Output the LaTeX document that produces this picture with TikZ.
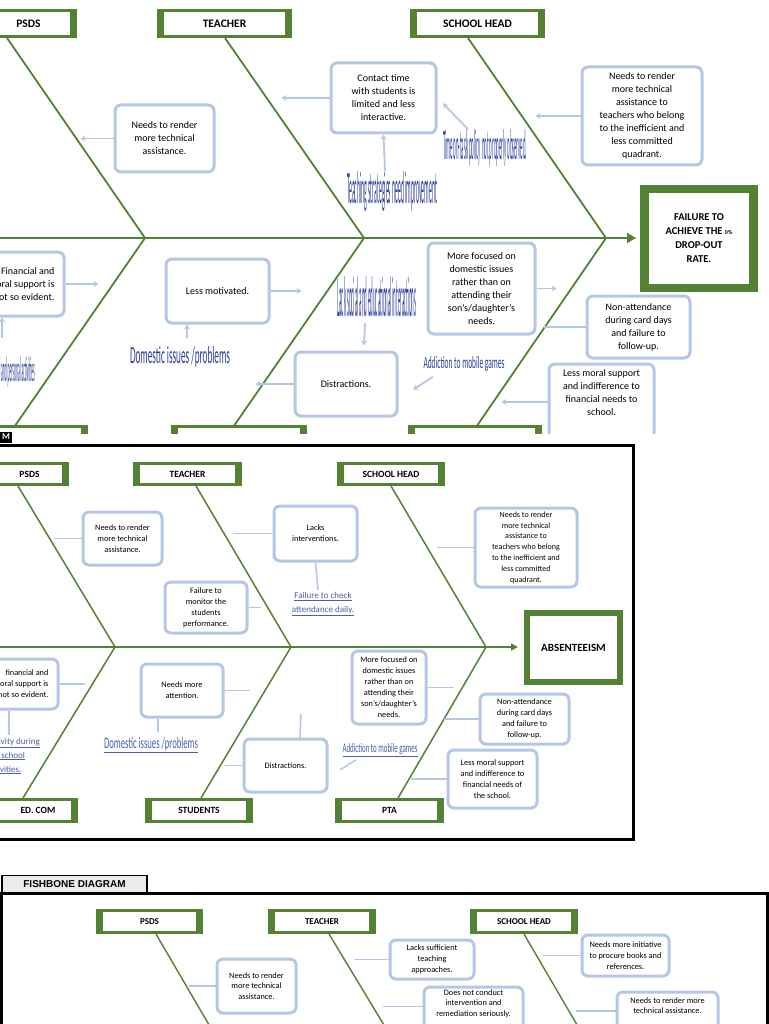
\documentclass[tikz,border=0pt]{standalone}
\usepackage{fontspec}
\usepackage{graphicx}
\setmainfont{Carlito}
\newfontfamily\tabfont{Liberation Sans}
\usetikzlibrary{arrows.meta}
\definecolor{fg}{HTML}{548235}
\definecolor{bb}{HTML}{B4C7E7}
\definecolor{tb}{HTML}{2E3F9E}
\definecolor{lk}{HTML}{4A5FA8}
\tikzset{
 cbox/.style={draw=bb,line width=3pt,rounded corners=6pt,fill=white,align=center,inner sep=2pt},
 gout/.style={fill=fg,inner sep=0pt},
 gin/.style={fill=white,inner sep=0pt},
 bone/.style={draw=fg,line width=1.8pt},
 la/.style={draw=bb,line width=1.8pt,-{Stealth[length=5pt,width=6pt]}},
 ll/.style={draw=bb,line width=1.5pt},
 sq/.style={text=tb,inner sep=0pt},
 lkt/.style={text=lk,inner sep=0pt,align=center},
}
\newcommand\cb[7]{\node[cbox,font=#7,minimum width={(#4-#2)*1pt},minimum height={(#5-#3)*1pt}] (#1) at ({(#2+#4)/2},{(#3+#5)/2}) {#6};}
\newcommand\gb[7]{\node[gout,minimum width={(#4-#2)*1pt},minimum height={(#5-#3)*1pt}] (#1) at ({(#2+#4)/2},{(#3+#5)/2}) {};
\node[gin,font={\bfseries#7},minimum width={(#4-#2-14)*1pt},minimum height={(#5-#3-6)*1pt}] (#1t) at (#1) {#6};}
\begin{document}
\begin{tikzpicture}[x=1pt,y=-1pt]
\useasboundingbox (0,0) rectangle (768,1024);
\fill[white] (0,0) rectangle (768,1024);
% ===== PANEL 1 =====
\begin{scope}
\clip (0,0) rectangle (768,433);
\coordinate (p1s) at (0,238); \coordinate (p1e) at (636,238);
\draw[bone,-{Triangle[length=9pt,width=10pt]}] (p1s) -- (p1e);
\coordinate (a1) at (7,38); \coordinate (a2) at (145,238);
\coordinate (b1) at (225,38); \coordinate (b2) at (364,238);
\coordinate (c1) at (468,38); \coordinate (c2) at (606,238);
\coordinate (d1) at (10,433); \coordinate (e1) at (229,433); \coordinate (f1) at (472,433);
\draw[bone] (a1)--(a2)--(d1); \draw[bone] (b1)--(b2)--(e1); \draw[bone] (c1)--(c2)--(f1);
\gb{g1}{-60}{9}{77}{38}{\hspace*{40pt}PSDS}{\fontsize{11.5}{12}\selectfont}
\gb{g2}{157}{9}{292}{38}{TEACHER}{\fontsize{11.5}{12}\selectfont}
\gb{g3}{410}{9}{545}{38}{SCHOOL HEAD}{\fontsize{11.5}{12}\selectfont}
\gb{g4}{-50}{425}{88}{450}{}{\small}
\gb{g5}{171}{425}{307}{450}{}{\small}
\gb{g6}{408}{425}{542}{450}{}{\small}
\node[fill=fg,minimum width=118pt,minimum height=107pt,inner sep=0pt] (eff1) at (699,238.5) {};
\node[fill=white,minimum width=100pt,minimum height=91pt,inner sep=0pt,align=center,font=\bfseries\fontsize{10.5}{14}\selectfont] (eff1t) at (eff1) {FAILURE TO\\ACHIEVE THE {\fontsize{6}{6}\selectfont 0\%}\\DROP-OUT\\RATE.};
\def\fa{\fontsize{10}{13}\selectfont}
\cb{n1}{115}{105}{214}{172}{Needs to render\\more technical\\assistance.}{\fa}
\cb{n2}{331}{63}{436}{133}{Contact time\\with students is\\limited and less\\interactive.}{\fa}
\cb{n3}{582}{67}{702}{165}{Needs to render\\more technical\\assistance to\\teachers who belong\\to the inefficient and\\less committed\\quadrant.}{\fa}
\node[cbox,minimum width=124pt,minimum height=64pt] (n4) at (2,284) {};
\node[font=\fa,align=right,anchor=east] (n4t) at (58,284) {Financial and\\moral support is\\not so evident.};
\cb{n5}{166}{259}{269}{323}{Less motivated.}{\fa}
\cb{n6}{428}{243}{535}{334}{More focused on\\domestic issues\\rather than on\\attending their\\son's/daughter's\\needs.}{\fa}
\cb{n7}{295}{352}{397}{416}{Distractions.}{\fa}
\cb{n8}{587}{296}{690}{358}{Non-attendance\\during card days\\and failure to\\follow-up.}{\fa}
\cb{n9}{549}{364}{654}{440}{Less moral support\\and indifference to\\financial needs to\\school.\\[6pt]}{\fa}
\draw[la] (n1.west) -- ++(-33,0);
\draw[la] (n2.west) -- ++(-48,0);
\draw[la] (n3.west) -- ++(-45,0);
\draw[la] (n4.east) -- ++(33,0);
\draw[la] (n5.east) -- ++(31,0);
\draw[la] (n6.east) -- ++(20,0);
\draw[la] (n7.west) -- ++(-38,0);
\draw[ll] (n8.west) -- ++(-42,0);
\draw[la] (n9.west) -- ++(-46,0);
\node[sq] (t1) at (392,191) {\resizebox{90pt}{32pt}{Teaching strategies need improvement}};
\node[sq] (t2) at (485,148) {\resizebox{84pt}{30pt}{Time on-task policy not properly observed.}};
\node[sq] (t3) at (377,297) {\resizebox{79pt}{40pt}{Lack social and educational interactions}};
\node[sq,anchor=east] (t4) at (35,372) {\resizebox{50pt}{25pt}{Less social and personal activities}};
\node[sq] (t5) at (180,357) {\resizebox{100pt}{17pt}{Domestic issues /problems}};
\node[sq] (t6) at (464,364) {\resizebox{81pt}{12pt}{Addiction to mobile games}};
\draw[la] (t1.north) ++(-7,0) -- (n2.south);
\draw[la] (t2.north) ++(-17,0) -- ++(-25,-26);
\draw[la] (t3.south) ++(-12,6) -- ++(-1,22);
\draw[la] (t4.north -| 2,0) ++(0,-18) -- (n4.south -| 2,0);
\draw[la] (t5.north -| 187,0) ++(0,-8) -- (n5.south -| 187,0);
\draw[la] (t6.south) ++(-31,5) -- ++(-20,13);
\end{scope}
% ===== PANEL 2 =====
\node[fill=black,text=white,font=\bfseries\small,inner sep=0pt,minimum width=12pt,minimum height=11pt] (tabm) at (6,437) {M};
\draw[line width=3pt] (-5,445) rectangle (633,839);
\coordinate (q1s) at (0,647); \coordinate (q1e) at (518,647);
\draw[bone,line width=1.5pt,-{Triangle[length=7pt,width=7pt]}] (q1s) -- (q1e);
\coordinate (h1) at (18,486); \coordinate (h2) at (115,647); \coordinate (h3) at (23,798);
\coordinate (i1) at (196,486); \coordinate (i2) at (291,647); \coordinate (i3) at (201,798);
\coordinate (j1) at (391,486); \coordinate (j2) at (486,647); \coordinate (j3) at (398,798);
\draw[bone,line width=1.5pt] (h1)--(h2)--(h3); \draw[bone,line width=1.5pt] (i1)--(i2)--(i3); \draw[bone,line width=1.5pt] (j1)--(j2)--(j3);
\def\fg{\fontsize{9.5}{10}\selectfont}
\gb{k1}{-60}{462}{69}{486}{\hspace*{50pt}PSDS}{\fg}
\gb{k2}{133}{462}{242}{486}{TEACHER}{\fg}
\gb{k3}{337}{462}{445}{486}{SCHOOL HEAD}{\fg}
\gb{k4}{-60}{798}{78}{823}{\hspace*{58pt}ED. COM}{\fg}
\gb{k5}{145}{798}{253}{823}{STUDENTS}{\fg}
\gb{k6}{335}{798}{444}{823}{PTA}{\fg}
\node[fill=fg,minimum width=99pt,minimum height=75pt,inner sep=0pt] (eff2) at (573.5,647.5) {};
\node[fill=white,minimum width=87pt,minimum height=63pt,inner sep=0pt,font=\bfseries\fontsize{11}{12}\selectfont] (eff2t) at (eff2) {ABSENTEEISM};
\def\fb{\fontsize{8.3}{11}\selectfont}
\cb{m1}{83}{512}{162}{565}{Needs to render\\more technical\\assistance.}{\fb}
\cb{m2}{274}{506}{357}{561}{Lacks\\interventions.}{\fb}
\cb{m3}{165}{582}{247}{633}{Failure to\\monitor the\\students\\performance.}{\fb}
\cb{m4}{475}{508}{577}{587}{Needs to render\\more technical\\assistance to\\teachers who belong\\to the inefficient and\\less committed\\quadrant.}{\fontsize{8}{10.8}\selectfont}
\node[cbox,minimum width=118pt,minimum height=50pt] (m5) at (-1,684) {};
\node[font=\fb,align=right,anchor=east] (m5t) at (52,684) {financial and\\moral support is\\not so evident.};
\cb{m6}{141}{664}{223}{717}{Needs more\\attention.}{\fb}
\cb{m7}{244}{739}{327}{792}{Distractions.}{\fb}
\cb{m8}{352}{651}{426}{724}{More focused on\\domestic issues\\rather than on\\attending their\\son's/daughter's\\needs.}{\fb}
\cb{m9}{480}{694}{569}{744}{Non-attendance\\during card days\\and failure to\\follow-up.}{\fb}
\cb{m10}{448}{750}{537}{808}{Less moral support\\and indifference to\\financial needs of\\the school.}{\fb}
\draw[ll] (m1.west) -- ++(-28,0);
\draw[ll] (m2.west) -- ++(-40,0);
\draw[ll] (m3.east) -- ++(12,0);
\draw[ll] (m4.west) -- ++(-37,0);
\draw[ll] (m5.east) -- ++(25,0);
\draw[ll] (m6.east) -- ++(25,0);
\draw[ll] (m7.west) -- ++(-19,0);
\draw[ll] (m8.east) -- ++(26,0);
\draw[ll] (m9.west) -- ++(-35,0);
\draw[ll] (m10.west) -- ++(-36,0);
\def\fl{\fontsize{9}{14}\selectfont}
\node[lkt,font=\fl] (u1) at (323,604) {\underline{Failure to check}\\\underline{attendance daily.}};
\node[lkt,font=\fl,align=left,anchor=east] (u2) at (40,756) {\underline{Activity during}\\\underline{out school}\\\underline{activities.}};
\node[lkt] (u3) at (151,745) {\underline{\resizebox{94pt}{11pt}{Domestic issues /problems}}};
\node[lkt] (u4) at (380,750) {\underline{\resizebox{75pt}{9pt}{Addiction to mobile games}}};
\coordinate (v1) at (301,714);
\draw[ll] (u1.north) ++(-5,-2) -- (m2.south);
\draw[ll] (u2.north -| 9,0) ++(0,-3) -- (m5.south -| 9,0);
\draw[ll] (u3.north -| 158,0) ++(0,-5) -- (m6.south -| 158,0);
\draw[ll] (v1) -- (m7.north -| 300,0);
\draw[ll] (u4.south) ++(-24,3) -- ++(-16,10);
% ===== PANEL 3 =====
\node[draw=black,line width=1.5pt,fill=black!8,font=\tabfont\bfseries\fontsize{10}{10}\selectfont,inner sep=0pt,minimum width=145pt,minimum height=17pt] (tabf) at (74.5,884) {FISHBONE DIAGRAM};
\draw[line width=3pt] (1,893) rectangle (767,1030);
\coordinate (r1) at (156,934); \coordinate (r2) at (212,1030);
\coordinate (s1) at (329,934); \coordinate (s2) at (387,1030);
\coordinate (w1) at (524,934); \coordinate (w2) at (580,1030);
\draw[bone,line width=1.4pt] (r1)--(r2); \draw[bone,line width=1.4pt] (s1)--(s2); \draw[bone,line width=1.4pt] (w1)--(w2);
\def\fh{\fontsize{9}{10}\selectfont}
\gb{x1}{96}{909}{203}{934}{PSDS}{\fh}
\gb{x2}{268}{909}{376}{934}{TEACHER}{\fh}
\gb{x3}{470}{909}{578}{934}{SCHOOL HEAD}{\fh}
\def\fc{\fontsize{8.3}{10.8}\selectfont}
\cb{y1}{217}{959}{296}{1013}{Needs to render\\more technical\\assistance.}{\fc}
\cb{y2}{390}{940}{474}{979}{Lacks sufficient\\teaching\\approaches.}{\fc}
\cb{y3}{424}{987}{523}{1034}{Does not conduct\\intervention and\\remediation seriously.\\[4pt]}{\fc}
\cb{y4}{582}{935}{669}{976}{Needs more initiative\\to procure books and\\references.}{\fc}
\cb{y5}{617}{992}{718}{1034}{Needs to render more\\technical assistance.\\[4pt]}{\fc}
\draw[ll] (y1.west) -- ++(-27,0);
\draw[ll] (y2.west) -- ++(-35,0);
\draw[ll] (y3.west) ++(0,-4) -- ++(-40,0);
\draw[ll] (y4.west) -- ++(-38,0);
\draw[ll] (y5.west) ++(0,-2) -- ++(-40,0);
\end{tikzpicture}
\end{document}
